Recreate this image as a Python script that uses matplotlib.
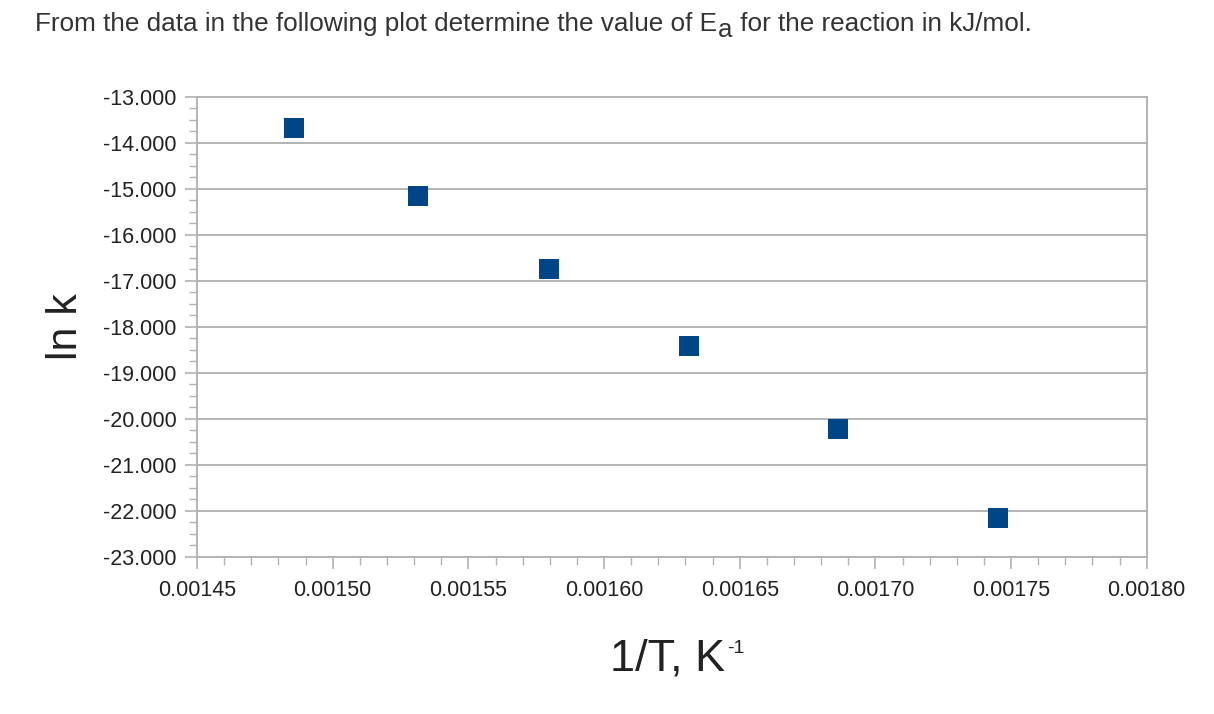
import matplotlib
matplotlib.use('Agg')
from matplotlib import pyplot as plt
from matplotlib.ticker import MultipleLocator, FormatStrFormatter

# values
inv_T = [0.0014859, 0.0015314, 0.0015798, 0.0016313, 0.0016863, 0.0017452]
ln_k = [-13.68, -15.16, -16.75, -18.43, -20.23, -22.15]

plt.rcParams['font.family'] = ['Liberation Sans', 'DejaVu Sans']
plt.rcParams['axes.unicode_minus'] = False

grey = '#b3b3b3'
W, H = 1214, 714

fig = plt.figure(figsize=(12.14, 7.14), dpi=100)
ax = fig.add_axes([0.1623, 0.2203, 0.7823, 0.6443])

ax.plot(inv_T, ln_k, 's', color='#004586', markersize=14.5, markeredgewidth=0)

ax.set_xlim(0.00145, 0.00180)
ax.set_ylim(-23, -13)

ax.xaxis.set_major_locator(MultipleLocator(0.00005))
ax.xaxis.set_minor_locator(MultipleLocator(0.00001))
ax.yaxis.set_major_locator(MultipleLocator(1))
ax.yaxis.set_minor_locator(MultipleLocator(0.25))
ax.xaxis.set_major_formatter(FormatStrFormatter('%.5f'))
ax.yaxis.set_major_formatter(FormatStrFormatter('%.3f'))

ax.grid(axis='y', which='major', color=grey, linewidth=1.4)
ax.set_axisbelow(True)

for s in ax.spines.values():
    s.set_color(grey)
    s.set_linewidth(1.4)

ax.tick_params(which='major', length=8.6, width=1.2, color=grey, labelsize=15.5, labelcolor='#222222')
ax.tick_params(which='minor', length=5.8, width=1.0, color=grey)
ax.tick_params(axis='x', which='major', pad=8)
ax.tick_params(axis='y', which='major', pad=6)

ax.set_ylabel('ln k', fontsize=31, color='#222222', labelpad=12)

# x label with a small raised "-1"
xl = fig.text(610 / W, 1 - 670 / H, '1/T, K', fontsize=32.5, color='#222222',
              ha='left', va='baseline')
# title in pieces so the subscript a keeps normal size
t1 = fig.text(35 / W, 1 - 31 / H, 'From the data in the following plot determine the value of E',
              fontsize=18.8, color='#333333', va='baseline', ha='left')
fig.canvas.draw()
bb = xl.get_window_extent()
fig.text((bb.x1 + 1.5) / W, 1 - 653 / H, '-1', fontsize=14, color='#222222',
         ha='left', va='baseline')
b1 = t1.get_window_extent()
t2 = fig.text((b1.x1 + 1) / W, 1 - 37 / H, 'a', fontsize=18.5, color='#333333',
              va='baseline', ha='left')
fig.canvas.draw()
b2 = t2.get_window_extent()
fig.text((b2.x1 + 1) / W, 1 - 31 / H, ' for the reaction in kJ/mol.',
         fontsize=18.8, color='#333333', va='baseline', ha='left')

fig.savefig('out.png', dpi=100)
